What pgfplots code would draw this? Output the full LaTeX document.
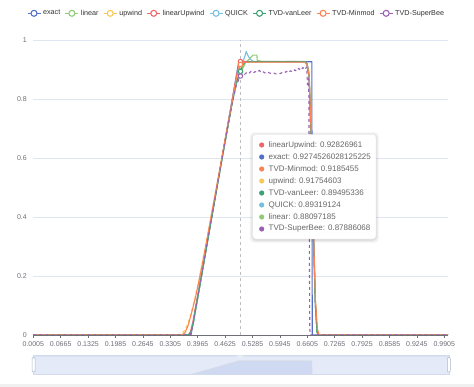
\documentclass[border=0pt]{standalone}
\usepackage{fontspec}
\setmainfont{Liberation Sans}
\usepackage{pgfplots}
\pgfplotsset{compat=1.18}
\definecolor{cexact}{HTML}{5470C6}
\definecolor{clinear}{HTML}{91CC75}
\definecolor{cupwind}{HTML}{FAC858}
\definecolor{clinup}{HTML}{EE6666}
\definecolor{cquick}{HTML}{73C0DE}
\definecolor{cvanleer}{HTML}{3BA272}
\definecolor{cminmod}{HTML}{FC8452}
\definecolor{csuperbee}{HTML}{9A60B4}
\definecolor{gridgray}{HTML}{E0E6F1}
\definecolor{axisgray}{HTML}{6E7079}
\definecolor{legendgray}{HTML}{333333}
\definecolor{tipgray}{HTML}{666666}
\definecolor{pointergray}{HTML}{BDBFC4}
\definecolor{dzfill}{HTML}{E5EAF8}
\definecolor{dzborder}{HTML}{D2DBEE}
\definecolor{dzshadow}{HTML}{D0D9F2}
\definecolor{dzhandle}{HTML}{ACB8D1}
\begin{document}
\begin{tikzpicture}[x=1pt,y=1pt]
\path[use as bounding box, fill=white] (0,0) rectangle (474,387);
\fill[black!6] (0,0) rectangle (474,2.7);
% ---------------- main axis ----------------
\begin{axis}[
  at={(33.3pt,52.1pt)}, anchor=south west,
  scale only axis, width=414.7pt, height=294.5pt,
  xmin=0.0005, xmax=0.9995, ymin=0, ymax=1,
  axis x line*=bottom, axis y line*=left,
  separate axis lines,
  x axis line style={draw=axisgray, line width=0.6pt, -},
  y axis line style={draw=none},
  ymajorgrids, grid style={gridgray, line width=0.6pt},
  xtick={0.0005,0.0665,0.1325,0.1985,0.2645,0.3305,0.3965,0.4625,0.5285,0.5945,0.6605,0.7265,0.7925,0.8585,0.9245,0.9905},
  xticklabels={0.0005,0.0665,0.1325,0.1985,0.2645,0.3305,0.3965,0.4625,0.5285,0.5945,0.6605,0.7265,0.7925,0.8585,0.9245,0.9905},
  ytick={0,0.2,0.4,0.6,0.8,1},
  yticklabels={0,0.2,0.4,0.6,0.8,1},
  tick align=outside, major tick length=3pt,
  xtick style={draw=axisgray, line width=0.6pt},
  ytick style={draw=none},
  xticklabel style={font=\fontsize{7}{8}\selectfont, text=axisgray},
  yticklabel style={font=\fontsize{7}{8}\selectfont, text=axisgray},
  legend columns=8,
  legend style={at={(0.4888,1.092)}, anchor=center, draw=none, fill=none,
    font=\fontsize{7.2}{8}\selectfont, text=legendgray,
    nodes={inner sep=1pt},
    /tikz/every odd column/.append style={column sep=1pt},
    /tikz/every even column/.append style={column sep=3.6pt}},
  legend image code/.code={
    \draw[#1, solid, line width=1.1pt] (0pt,0pt) -- (13pt,0pt);
    \draw[#1, solid, fill=white, line width=1.1pt] (6.5pt,0pt) circle (3pt);
  },
  every axis plot/.append style={line width=1.1pt, mark=none, line join=round},
]
\addplot[forget plot, pointergray, dashed, line width=0.6pt] coordinates {(0.4995,0) (0.4995,1)};

\addplot[cexact] coordinates {(0.0005,0) (0.3805,0) (0.4955,0.92745) (0.6715,0.92745) (0.6725,0) (0.9995,0)};
\addlegendentry{exact}

\addplot[clinear] coordinates {(0.0005,0) (0.372,0) (0.378,0.005) (0.384,0.03) (0.39,0.075) (0.40,0.15) (0.42,0.315) (0.44,0.475) (0.46,0.635) (0.48,0.79) (0.49,0.855) (0.4995,0.881) (0.505,0.905) (0.512,0.925) (0.52,0.935) (0.527,0.946) (0.530,0.95) (0.539,0.95) (0.540,0.932) (0.55,0.929) (0.60,0.928) (0.655,0.929) (0.66,0.922) (0.665,0.89) (0.670,0.70) (0.675,0.40) (0.680,0.12) (0.684,0.01) (0.688,0) (0.9995,0)};
\addlegendentry{linear}

\addplot[cupwind, dashed] coordinates {(0.0005,0) (0.352,0) (0.358,0.004) (0.365,0.015) (0.372,0.035) (0.38,0.07) (0.39,0.125) (0.40,0.19) (0.42,0.335) (0.44,0.49) (0.46,0.645) (0.48,0.795) (0.49,0.87) (0.4995,0.9175) (0.505,0.924) (0.515,0.926) (0.655,0.926) (0.66,0.918) (0.665,0.88) (0.670,0.68) (0.675,0.38) (0.680,0.12) (0.684,0.02) (0.688,0) (0.9995,0)};
\addlegendentry{upwind}

\addplot[clinup] coordinates {(0.0005,0) (0.374,0) (0.379,0.01) (0.385,0.045) (0.39,0.085) (0.40,0.16) (0.42,0.32) (0.44,0.48) (0.46,0.64) (0.48,0.80) (0.49,0.88) (0.4955,0.92) (0.4995,0.928) (0.505,0.929) (0.52,0.928) (0.655,0.928) (0.66,0.92) (0.665,0.87) (0.67,0.65) (0.675,0.35) (0.68,0.1) (0.684,0.01) (0.688,0) (0.9995,0)};
\addlegendentry{linearUpwind}

\addplot[cquick] coordinates {(0.0005,0) (0.376,0) (0.381,0.01) (0.387,0.05) (0.40,0.155) (0.42,0.317) (0.44,0.478) (0.46,0.637) (0.48,0.795) (0.49,0.86) (0.4995,0.893) (0.505,0.925) (0.510,0.945) (0.5135,0.962) (0.517,0.95) (0.522,0.938) (0.53,0.929) (0.655,0.928) (0.66,0.92) (0.665,0.875) (0.67,0.66) (0.675,0.36) (0.68,0.1) (0.684,0.01) (0.688,0) (0.9995,0)};
\addlegendentry{QUICK}

\addplot[cvanleer] coordinates {(0.0005,0) (0.375,0) (0.38,0.008) (0.386,0.04) (0.39,0.075) (0.40,0.155) (0.42,0.317) (0.44,0.477) (0.46,0.636) (0.48,0.79) (0.49,0.86) (0.4995,0.895) (0.505,0.915) (0.51,0.925) (0.52,0.928) (0.655,0.928) (0.66,0.92) (0.665,0.875) (0.67,0.66) (0.675,0.36) (0.68,0.1) (0.684,0.01) (0.688,0) (0.9995,0)};
\addlegendentry{TVD-vanLeer}

\addplot[cminmod] coordinates {(0.0005,0) (0.360,0) (0.366,0.008) (0.373,0.03) (0.38,0.065) (0.39,0.12) (0.40,0.185) (0.42,0.333) (0.44,0.488) (0.46,0.643) (0.48,0.795) (0.49,0.875) (0.4995,0.9185) (0.505,0.925) (0.515,0.926) (0.655,0.926) (0.66,0.918) (0.665,0.88) (0.67,0.68) (0.675,0.38) (0.68,0.12) (0.685,0.02) (0.689,0) (0.9995,0)};
\addlegendentry{TVD-Minmod}

\addplot[csuperbee, dashed] coordinates {(0.0005,0) (0.377,0) (0.3805,0.005) (0.386,0.04) (0.39,0.075) (0.40,0.155) (0.42,0.318) (0.44,0.478) (0.46,0.638) (0.48,0.79) (0.49,0.85) (0.4995,0.879) (0.505,0.888) (0.51,0.885) (0.515,0.892) (0.52,0.888) (0.525,0.895) (0.53,0.889) (0.535,0.894) (0.54,0.891) (0.545,0.898) (0.55,0.89) (0.555,0.893) (0.56,0.888) (0.565,0.892) (0.57,0.889) (0.575,0.887) (0.58,0.889) (0.585,0.886) (0.59,0.888) (0.595,0.887) (0.60,0.891) (0.605,0.889) (0.61,0.895) (0.615,0.89) (0.62,0.897) (0.625,0.892) (0.63,0.9) (0.635,0.895) (0.64,0.905) (0.645,0.898) (0.65,0.908) (0.655,0.9) (0.659,0.91) (0.661,0.85) (0.663,0.87) (0.6645,0.80) (0.6655,0.3) (0.6665,0.02) (0.668,0) (0.9995,0)};
\addlegendentry{TVD-SuperBee}

% hovered symbols at x = 0.4995
\addplot[forget plot, only marks, mark=*, mark size=2.2pt, mark options={draw=cexact, fill=white, line width=1pt}] coordinates {(0.4995,0.92745)};
\addplot[forget plot, only marks, mark=*, mark size=2.2pt, mark options={draw=clinear, fill=white, line width=1pt}] coordinates {(0.4995,0.88097)};
\addplot[forget plot, only marks, mark=*, mark size=2.2pt, mark options={draw=cupwind, fill=white, line width=1pt}] coordinates {(0.4995,0.91755)};
\addplot[forget plot, only marks, mark=*, mark size=2.2pt, mark options={draw=clinup, fill=white, line width=1pt}] coordinates {(0.4995,0.92827)};
\addplot[forget plot, only marks, mark=*, mark size=2.2pt, mark options={draw=cquick, fill=white, line width=1pt}] coordinates {(0.4995,0.89319)};
\addplot[forget plot, only marks, mark=*, mark size=2.2pt, mark options={draw=cvanleer, fill=white, line width=1pt}] coordinates {(0.4995,0.89495)};
\addplot[forget plot, only marks, mark=*, mark size=2.2pt, mark options={draw=cminmod, fill=white, line width=1pt}] coordinates {(0.4995,0.91855)};
\addplot[forget plot, only marks, mark=*, mark size=2.2pt, mark options={draw=csuperbee, fill=white, line width=1pt}] coordinates {(0.4995,0.87886)};
\end{axis}

% ---------------- data zoom slider ----------------
\fill[dzfill] (33.3,12.7) rectangle (449,32);
\fill[dzborder!80] (33.3,29.5) rectangle (449,32);
\begin{axis}[
  at={(33.3pt,12.7pt)}, anchor=south west,
  scale only axis, width=414.7pt, height=19.3pt,
  xmin=0.0005, xmax=0.9995, ymin=0, ymax=1.316,
  hide axis, clip=false,
]
\addplot[fill=dzshadow, draw=dzshadow!80!black!40, line width=0.4pt] coordinates {(0.0005,0) (0.3805,0) (0.4955,0.92745) (0.6715,0.92745) (0.6725,0) (0.9995,0)} \closedcycle;
\end{axis}
\draw[dzborder, line width=0.6pt] (33.3,12.7) rectangle (449,32);
\draw[dzhandle, fill=white, line width=0.5pt, rounded corners=1pt] (32,15) rectangle (35,29.5);
\draw[dzhandle, fill=white, line width=0.5pt, rounded corners=1pt] (447.3,15) rectangle (450.3,29.5);
\fill[white!70!dzhandle] (237,30.3) rectangle (243,31.5);

% ---------------- tooltip ----------------
\foreach \s/\o in {3/0.03,2/0.04,1/0.05}{
  \fill[black, opacity=\o, rounded corners=4pt] (252.7-\s,148-\s-0.8) rectangle (376+\s,252.7+\s-0.8);
}
\fill[white, rounded corners=3pt] (252.7,148) rectangle (376,252.7);
\draw[white!90!black, line width=0.4pt, rounded corners=3pt] (252.7,148) rectangle (376,252.7);
\begin{scope}[every node/.style={anchor=west, inner sep=0pt, font=\fontsize{8}{9}\selectfont, text=tipgray}]
\fill[clinup] (261.7,242) circle (2.6);   \node at (268.5,242) {linearUpwind: 0.92826961};
\fill[cexact] (261.7,230) circle (2.6);   \node at (268.5,230) {exact: 0.9274526028125225};
\fill[cminmod] (261.7,218) circle (2.6);  \node at (268.5,218) {TVD-Minmod: 0.9185455};
\fill[cupwind] (261.7,206) circle (2.6);  \node at (268.5,206) {upwind: 0.91754603};
\fill[cvanleer] (261.7,194) circle (2.6); \node at (268.5,194) {TVD-vanLeer: 0.89495336};
\fill[cquick] (261.7,182) circle (2.6);   \node at (268.5,182) {QUICK: 0.89319124};
\fill[clinear] (261.7,170) circle (2.6);  \node at (268.5,170) {linear: 0.88097185};
\fill[csuperbee] (261.7,158) circle (2.6);\node at (268.5,158) {TVD-SuperBee: 0.87886068};
\end{scope}
\end{tikzpicture}
\end{document}
